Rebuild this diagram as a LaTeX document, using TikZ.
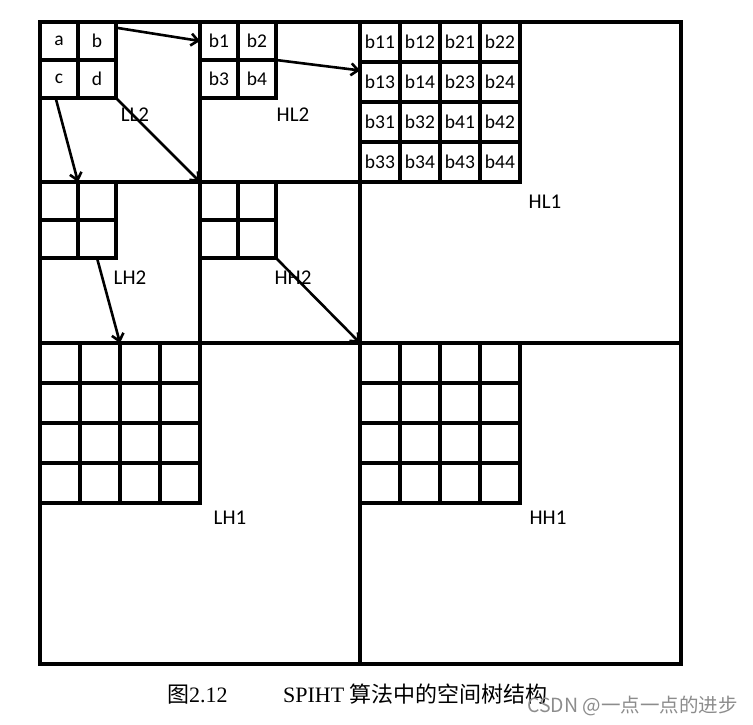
\documentclass[tikz,border=0pt]{standalone}
\usepackage{fontspec}
\setmainfont{Liberation Serif}
\newfontfamily\cellfont{Carlito}
\newfontfamily\cjkfont{Noto Sans CJK SC}
\usetikzlibrary
  {
    arrows.meta,              % barbed arrow heads
    positioning,              % place nodes relative to other nodes
  }

\begin{document}
\begin{tikzpicture}
    [
      x=1pt, y=-1pt,
      % Styles
      frame/.style={line width=3.3pt, line cap=rect},
      small cell/.style={draw, line width=3.3pt, minimum size=38pt, inner sep=0pt,
        outer sep=0pt, font=\cellfont\fontsize{19.5}{20}\selectfont},
      big cell/.style={small cell, minimum size=40pt},
      band label/.style={font=\cellfont\fontsize{21}{22}\selectfont},
      tree arrow/.style={line width=2.6pt, -{Straight Barb[length=7pt, width=12pt, line width=2.6pt]}},
      caption/.style={font=\fontsize{22}{26}\selectfont, inner sep=0pt},
      watermark/.style={font=\cjkfont\fontsize{19.5}{22}\selectfont, text=markcolor, inner sep=0pt}
    ]

    % Colors
    \colorlet{markcolor}{black!45}

    \useasboundingbox (0,0) rectangle (753,725);

    % level 1 and level 2 bands
    \draw [frame] (40,22) rectangle (681,664);
    \draw [frame] (360,22) -- (360,664) (40,343) -- (681,343);
    \draw [frame] (200,22) -- (200,343) (40,182) -- (360,182);

    % labelled cells of LL2 and HL2
    \foreach \name/\col/\row in {a/0/0, b/1/0, c/0/1, d/1/1}
    {
      \node [small cell] (\name) at (59+38*\col, 41+38*\row) {\name};
    }
    \foreach \name/\col/\row in {b1/0/0, b2/1/0, b3/0/1, b4/1/1}
    {
      \node [small cell] (\name) at (219+38*\col, 41+38*\row) {\name};
    }

    % labelled cells of HL1
    \foreach \row/\labels in {0/{b11,b12,b21,b22}, 1/{b13,b14,b23,b24},
                              2/{b31,b32,b41,b42}, 3/{b33,b34,b43,b44}}
    {
      \foreach \lab [count=\col from 0] in \labels
        \node [big cell] (\lab) at (380+40*\col, 42+40*\row) {\lab};
    }

    % empty cells of LH2, HH2, LH1 and HH1
    \foreach \row in {0,1}
      \foreach \col in {0,1}
      {
        \node [small cell] (lh2-\row-\col) at (59+38*\col, 201+38*\row) {};
        \node [small cell] (hh2-\row-\col) at (219+38*\col, 201+38*\row) {};
      }
    \foreach \row in {0,...,3}
      \foreach \col in {0,...,3}
      {
        \node [big cell] (lh1-\row-\col) at (60+40*\col, 363+40*\row) {};
        \node [big cell] (hh1-\row-\col) at (380+40*\col, 363+40*\row) {};
      }

    % band names
    \node [band label] (ll2) at (135,115) {LL2};
    \node [band label] (hl2) at (293,115) {HL2};
    \node [band label] (hl1) at (545,202) {HL1};
    \node [band label] (lh2) at (130,278) {LH2};
    \node [band label] (hh2) at (293,278) {HH2};
    \node [band label] (lh1) at (230,518) {LH1};
    \node [band label] (hh1) at (548,518) {HH1};

    % parent -> children
    \draw [tree arrow] (b.35) -- (b1.west);
    \draw [tree arrow] (b2.south east) -- (b13.150);
    \draw [tree arrow] (c.-100) -- (lh2-0-0.north east);
    \draw [tree arrow] (d.south east) -- (hh2-0-0.north west);
    \draw [tree arrow] (lh2-1-1.south) -- (lh1-0-2.north west);
    \draw [tree arrow] (hh2-1-1.south east) -- (hh1-0-0.north west);

    % caption
    \node [caption, anchor=base west] (fig-num) at (167,702) {{\cjkfont 图}2.12};
    \node [caption, anchor=base west] (fig-title) at (283,702) {SPIHT {\cjkfont 算法中的空间树结构}};
    \node [watermark, anchor=base west] (mark) at (527,712) {CSDN @一点一点的进步};
  \end{tikzpicture}
\end{document}
